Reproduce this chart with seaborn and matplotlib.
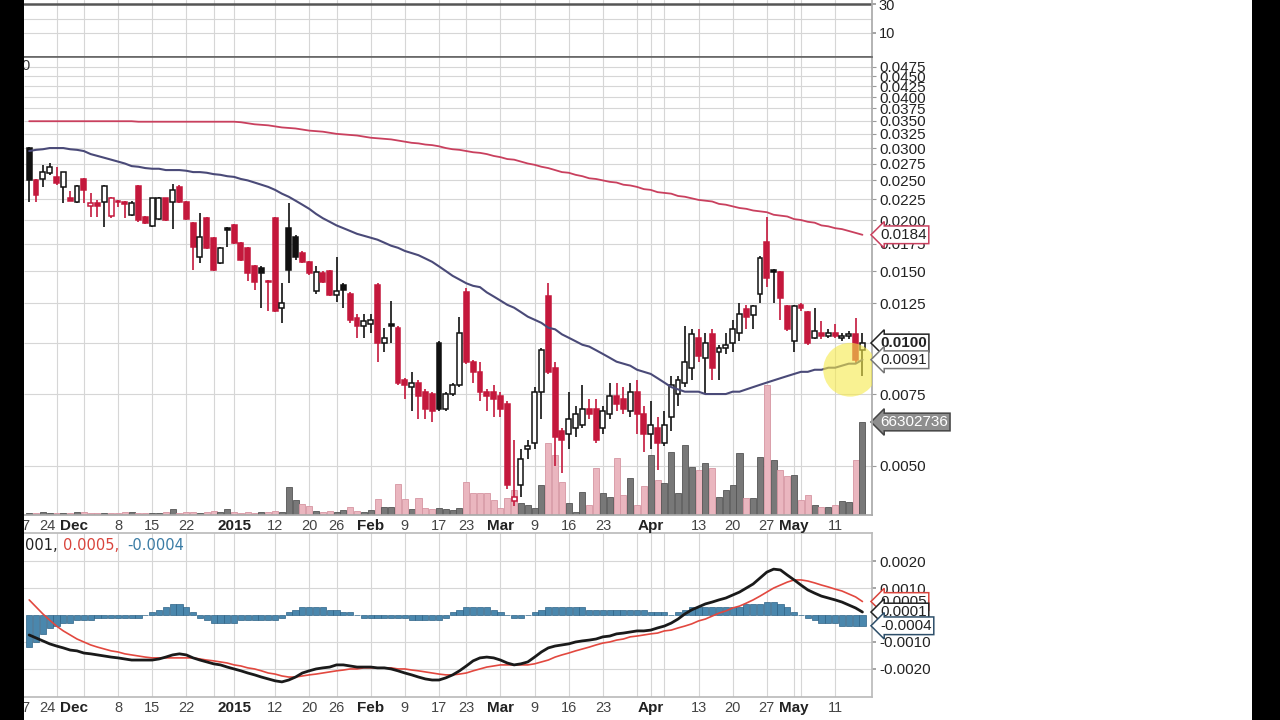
import numpy as np
import matplotlib
matplotlib.use('Agg')
import matplotlib.pyplot as plt
import matplotlib.transforms as mtransforms
from matplotlib.patches import Rectangle
from matplotlib.ticker import FixedLocator, FixedFormatter, NullLocator
import seaborn as sns

# --- daily data, oldest first (one entry per trading day, Nov 19 2014 - May 15 2015) ---
opens = [.0300, .0251, .0252, .0260, .0255, .0241, .0226, .0221, .0252, .0217,
         .0220, .0221, .0205, .0222, .0221, .0206, .0242, .0203, .0193, .0201,
         .0226, .0221, .0241, .0221, .0197, .0162, .0202, .0181, .0157, .0191,
         .0194, .0176, .0171, .0154, .0153, .0142, .0202, .0122, .0191, .0182,
         .0166, .0158, .0134, .0148, .0150, .0131, .0139, .0132, .0115, .0110,
         .0111, .0139, .0100, .0111, .0109, .0081, .0078, .0080, .0076, .0075,
         .0100, .0069, .0075, .0079, .0133, .0090, .0085, .0076, .0076, .0074,
         .0071, .0041, .0045, .0055, .0057, .0076, .0130, .0087, .0061, .0060,
         .0062, .0063, .0069, .0069, .0062, .0067, .0074, .0073, .0068, .0076,
         .0067, .0060, .0062, .0057, .0066, .0075, .0080, .0087, .0103, .0092,
         .0105, .0095, .0097, .0100, .0106, .0121, .0117, .0132, .0177, .0151,
         .0149, .0123, .0101, .0124, .0119, .0103, .0106, .0104, .0106, .0103,
         .0104, .0105, .0096]
highs = [.0302, .0252, .0273, .0276, .0270, .0262, .0235, .0244, .0253, .0233,
         .0224, .0244, .0228, .0224, .0222, .0222, .0243, .0204, .0227, .0228,
         .0227, .0245, .0243, .0222, .0198, .0208, .0203, .0182, .0172, .0192,
         .0195, .0177, .0172, .0155, .0154, .0143, .0203, .0140, .0220, .0184,
         .0168, .0159, .0154, .0150, .0151, .0162, .0140, .0133, .0118, .0118,
         .0118, .0140, .0109, .0127, .0110, .0082, .0085, .0081, .0077, .0076,
         .0101, .0076, .0080, .0116, .0136, .0091, .0090, .0077, .0079, .0076,
         .0072, .0058, .0055, .0058, .0078, .0097, .0140, .0090, .0062, .0076,
         .0070, .0079, .0073, .0073, .0070, .0080, .0080, .0078, .0080, .0081,
         .0070, .0072, .0066, .0068, .0083, .0083, .0110, .0108, .0108, .0106,
         .0108, .0099, .0106, .0114, .0125, .0124, .0124, .0163, .0203, .0152,
         .0150, .0124, .0124, .0125, .0120, .0122, .0113, .0108, .0111, .0106,
         .0107, .0115, .0106]
lows = [.0221, .0221, .0241, .0258, .0244, .0220, .0222, .0220, .0220, .0203,
        .0203, .0192, .0202, .0215, .0202, .0205, .0198, .0196, .0192, .0200,
        .0199, .0190, .0220, .0200, .0151, .0157, .0170, .0150, .0156, .0172,
        .0175, .0159, .0142, .0135, .0122, .0120, .0119, .0112, .0140, .0160,
        .0157, .0147, .0132, .0140, .0130, .0126, .0122, .0112, .0103, .0103,
        .0106, .0090, .0095, .0100, .0079, .0073, .0068, .0065, .0065, .0064,
        .0068, .0068, .0074, .0078, .0089, .0080, .0072, .0068, .0066, .0066,
        .0044, .0040, .0042, .0052, .0055, .0065, .0084, .0050, .0048, .0055,
        .0059, .0062, .0065, .0057, .0060, .0065, .0068, .0067, .0066, .0060,
        .0054, .0055, .0049, .0056, .0061, .0070, .0078, .0081, .0090, .0075,
        .0081, .0081, .0094, .0095, .0101, .0108, .0108, .0125, .0137, .0125,
        .0114, .0107, .0095, .0120, .0099, .0102, .0102, .0103, .0103, .0101,
        .0102, .0089, .0083]
closes = [.0251, .0230, .0262, .0270, .0247, .0262, .0223, .0242, .0237, .0220,
          .0216, .0242, .0227, .0221, .0219, .0220, .0200, .0197, .0226, .0227,
          .0200, .0237, .0221, .0201, .0172, .0182, .0171, .0151, .0171, .0189,
          .0176, .0160, .0148, .0141, .0148, .0141, .0120, .0125, .0151, .0162,
          .0158, .0148, .0149, .0141, .0131, .0134, .0135, .0114, .0110, .0113,
          .0114, .0100, .0103, .0110, .0080, .0079, .0080, .0074, .0069, .0068,
          .0069, .0075, .0079, .0106, .0090, .0085, .0076, .0074, .0073, .0069,
          .0045, .0042, .0052, .0056, .0076, .0096, .0085, .0059, .0058, .0065,
          .0067, .0069, .0067, .0058, .0068, .0074, .0071, .0069, .0076, .0067,
          .0060, .0063, .0057, .0063, .0079, .0081, .0090, .0105, .0093, .0100,
          .0087, .0097, .0099, .0108, .0118, .0116, .0123, .0161, .0144, .0149,
          .0129, .0108, .0123, .0122, .0100, .0107, .0104, .0106, .0104, .0104,
          .0105, .0091, .0100]
# volume in millions of shares
volume_m = [1.6, 1.2, 2.0, 1.4, 1.1, 1.5, 1.3, 1.8, 2.2, 1.4,
            1.2, 1.6, 1.3, 1.5, 1.9, 2.4, 1.6, 1.3, 1.7, 1.4,
            2.3, 4.3, 1.5, 1.8, 2.4, 1.6, 1.9, 2.6, 2.2, 4.5,
            2.0, 1.6, 2.3, 1.7, 2.4, 2.2, 3.0, 2.4, 20.0, 10.7,
            7.8, 6.4, 2.9, 2.1, 2.9, 2.1, 3.6, 5.7, 2.9, 2.1,
            3.6, 11.4, 5.7, 5.7, 22.1, 11.4, 4.3, 12.1, 5.0, 4.3,
            5.0, 4.3, 3.6, 5.0, 23.5, 15.7, 15.7, 15.7, 10.7, 5.0,
            12.1, 17.8, 8.6, 7.1, 5.0, 21.4, 51.3, 42.8, 23.5, 8.6,
            2.1, 16.4, 7.1, 33.5, 15.7, 12.8, 40.6, 14.3, 26.4, 7.1,
            20.7, 42.8, 25.0, 22.8, 44.9, 15.7, 49.9, 34.2, 32.1, 37.1,
            33.5, 12.8, 17.8, 21.4, 44.2, 12.1, 12.1, 41.4, 92.7, 39.2,
            32.1, 27.8, 28.5, 10.7, 14.3, 7.1, 5.7, 5.7, 7.1, 10.0,
            9.3, 39.2, 66.302736]
ma50 = [.0295, .0297, .0298, .0300, .0300, .0300, .0298, .0297, .0295, .0290,
        .0287, .0284, .0281, .0278, .0275, .0271, .0270, .0268, .0267, .0267,
        .0265, .0265, .0265, .0264, .0262, .0262, .0261, .0259, .0258, .0256,
        .0255, .0252, .0250, .0247, .0244, .0241, .0237, .0232, .0228, .0223,
        .0218, .0213, .0207, .0202, .0198, .0194, .0191, .0188, .0185, .0183,
        .0181, .0179, .0176, .0173, .0171, .0168, .0166, .0164, .0161, .0158,
        .0154, .0150, .0146, .0143, .0140, .0138, .0137, .0133, .0130, .0127,
        .0124, .0122, .0119, .0116, .0114, .0112, .0109, .0108, .0105, .0103,
        .0101, .0099, .0098, .0096, .0094, .0092, .0090, .0089, .0088, .0086,
        .0085, .0084, .0082, .0080, .0078, .0077, .0076, .0076, .0076, .0075,
        .0075, .0075, .0075, .0076, .0076, .0077, .0078, .0079, .0080, .0081,
        .0082, .0083, .0084, .0085, .0085, .0086, .0086, .0087, .0087, .0088,
        .0089, .0089, .0091]
ma200 = [.0349, .0349, .0349, .0349, .0349, .0349, .0349, .0349, .0349, .0349,
         .0349, .0349, .0349, .0349, .0349, .0349, .0348, .0348, .0348, .0348,
         .0348, .0348, .0348, .0348, .0348, .0348, .0348, .0348, .0348, .0348,
         .0348, .0347, .0345, .0343, .0342, .0341, .0339, .0337, .0336, .0335,
         .0333, .0331, .0330, .0329, .0327, .0325, .0324, .0323, .0322, .0320,
         .0318, .0317, .0316, .0315, .0313, .0311, .0309, .0308, .0306, .0305,
         .0303, .0300, .0298, .0297, .0295, .0293, .0292, .0290, .0287, .0285,
         .0282, .0281, .0278, .0275, .0273, .0270, .0268, .0265, .0262, .0261,
         .0258, .0256, .0253, .0252, .0250, .0248, .0247, .0244, .0243, .0241,
         .0238, .0237, .0234, .0233, .0232, .0229, .0228, .0226, .0224, .0223,
         .0222, .0219, .0218, .0216, .0214, .0213, .0211, .0210, .0209, .0206,
         .0205, .0204, .0201, .0200, .0198, .0197, .0194, .0193, .0191, .0190,
         .0188, .0186, .0184]
# MACD(12,26,9) values, in units of 0.0001
macd_e4 = [-7.4, -8.5, -9.6, -10.7, -11.5, -12.2, -13.0, -13.3, -14.1, -14.4,
           -14.8, -15.2, -15.6, -15.9, -16.3, -16.7, -16.7, -16.7, -16.7, -16.3,
           -15.6, -14.8, -14.4, -14.8, -15.9, -16.7, -17.4, -18.1, -18.5, -19.3,
           -20.0, -20.7, -21.5, -22.2, -23.0, -23.7, -24.4, -24.8, -24.1, -23.0,
           -21.5, -20.7, -20.0, -19.6, -19.3, -18.5, -18.5, -18.9, -19.3, -19.3,
           -19.3, -19.6, -19.6, -20.0, -20.7, -21.5, -22.2, -23.0, -23.7, -24.1,
           -24.1, -23.3, -22.2, -20.7, -18.9, -17.0, -15.9, -15.6, -15.9, -16.7,
           -17.8, -18.5, -18.1, -17.4, -15.6, -13.7, -12.2, -11.5, -11.1, -10.7,
           -10.0, -9.6, -9.3, -8.9, -8.1, -7.8, -7.0, -6.7, -6.3, -5.9,
           -5.9, -5.6, -4.8, -4.1, -3.0, -1.5, 0.4, 1.9, 3.0, 4.1,
           4.8, 5.6, 6.3, 7.4, 8.5, 10.0, 11.5, 13.7, 15.9, 17.0,
           16.7, 14.8, 13.0, 11.1, 9.3, 8.1, 7.0, 6.3, 5.6, 4.8,
           3.7, 2.6, 1.1]
signal_e4 = [5.6, 3.0, 0.4, -1.9, -4.1, -5.9, -7.4, -8.9, -10.0, -11.1,
             -11.9, -12.6, -13.3, -13.7, -14.4, -14.8, -15.2, -15.6, -15.9, -15.9,
             -15.9, -15.9, -15.9, -15.9, -15.9, -16.3, -16.7, -17.0, -17.4, -17.8,
             -18.5, -18.9, -19.6, -20.0, -20.7, -21.5, -21.9, -22.6, -23.0, -23.0,
             -22.6, -22.2, -21.9, -21.5, -21.1, -20.7, -20.4, -20.0, -20.0, -19.6,
             -19.6, -19.6, -19.6, -19.6, -20.0, -20.0, -20.4, -20.7, -21.1, -21.5,
             -21.9, -22.2, -22.2, -21.9, -21.5, -20.7, -20.0, -19.3, -18.9, -18.5,
             -18.5, -18.5, -18.5, -18.5, -18.1, -17.4, -16.7, -15.6, -14.8, -14.1,
             -13.3, -12.6, -11.9, -11.1, -10.4, -10.0, -9.3, -8.9, -8.1, -7.8,
             -7.4, -7.0, -6.7, -5.9, -5.6, -4.8, -4.1, -3.3, -2.2, -1.5,
             -0.4, 0.7, 1.5, 2.6, 3.3, 4.4, 5.6, 7.0, 8.5, 10.0,
             11.1, 12.2, 13.0, 13.0, 12.6, 11.9, 11.1, 10.4, 9.6, 8.9,
             7.8, 6.7, 5.0]
hist_e4 = [-12, -10, -7, -5, -4, -3, -3, -2, -2, -2,
           -1, -1, -1, -1, -1, -1, -1, 0, 1, 2,
           3, 4, 4, 3, 1, -1, -2, -3, -3, -3,
           -3, -2, -2, -2, -2, -2, -2, -1, 1, 2,
           3, 3, 3, 3, 2, 2, 1, 1, 0, -1,
           -1, -1, -1, -1, -1, -1, -2, -2, -2, -2,
           -2, -1, 1, 2, 3, 3, 3, 3, 2, 1,
           0, -1, -1, 0, 1, 2, 3, 3, 3, 3,
           3, 3, 2, 2, 2, 2, 2, 2, 2, 2,
           2, 1, 1, 1, 0, 1, 2, 3, 3, 3,
           3, 3, 3, 3, 3, 4, 4, 4, 5, 5,
           4, 3, 1, 0, -1, -2, -3, -3, -3, -4,
           -4, -4, -4]

# x axis: label positions (trading-day index) and weekly grid lines
tick_pos = [-0.5, 2.6, 6.5, 13, 18, 23, 30, 36, 41, 45, 50, 55, 60, 64,
            69, 74, 79, 84, 91, 98, 103, 108, 112, 118]
tick_labels = ['7', '24', 'Dec', '8', '15', '22', '2015', '12', '20', '26', 'Feb', '9', '17', '23',
               'Mar', '9', '16', '23', 'Apr', '13', '20', '27', 'May', '11']
month_labels = {'Dec', '2015', 'Feb', 'Mar', 'Apr', 'May'}
grid_days = [4, 8, 13, 18, 23, 27, 30, 36, 41, 45, 50, 55, 60, 64, 69, 74,
             79, 84, 89, 91, 93, 98, 103, 108, 112, 113, 118]
price_ticks = [0.0050, 0.0075, 0.0100, 0.0125, 0.0150, 0.0175, 0.0200, 0.0225,
               0.0250, 0.0275, 0.0300, 0.0325, 0.0350, 0.0375, 0.0400, 0.0425,
               0.0450, 0.0475]
macd_ticks = [0.0020, 0.0010, -0.0010, -0.0020]

RED = '#c4183c'
BLACK = '#111111'
GRID = '#d6d6d6'

sns.set_theme(style='white')
plt.rcParams['font.family'] = ['Liberation Sans', 'DejaVu Sans']

o = np.array(opens); h = np.array(highs); l = np.array(lows); c = np.array(closes)
idx = np.arange(len(c))
prev = np.r_[c[0], c[:-1]]
up_day = c >= prev
edge = np.where(up_day, BLACK, RED)
face = np.where(c >= o, 'white', edge)
macd = np.array(macd_e4) * 1e-4
signal = np.array(signal_e4) * 1e-4
hist = np.array(hist_e4) * 1e-4
vol = np.array(volume_m)

fig = plt.figure(figsize=(12.8, 7.2), dpi=100)
fig.patch.set_facecolor('white')
L, W = 24 / 1280, 848 / 1280
ax_top = fig.add_axes([L, 1 - 57 / 720, W, 57 / 720])
ax = fig.add_axes([L, 1 - 515 / 720, W, 458 / 720])
ax_m = fig.add_axes([L, 1 - 697 / 720, W, 164 / 720])

# volume sits on its own axis underneath the price axis
ax_vol = ax.twinx()
ax.set_zorder(ax_vol.get_zorder() + 1)
ax.patch.set_visible(False)
ax_vol.patch.set_visible(True)
ax_vol.patch.set_facecolor('white')

xlim = (-0.76, 123.4)
for a in (ax_top, ax, ax_m):
    a.set_xlim(*xlim)

# --- price panel ---
ax.set_yscale('log')
ax.set_ylim(0.003793, 0.05012)
blend = mtransforms.blended_transform_factory(ax_vol.transAxes, ax.transData)
ax_vol.hlines(price_ticks, 0, 1, transform=blend, colors=GRID, lw=0.8, zorder=0)
for d in grid_days:
    ax_vol.axvline(d, color=GRID, lw=0.8, zorder=0)
ax_vol.bar(idx, vol, width=0.88, color=np.where(up_day, '#787878', '#eab6bf'),
           edgecolor=np.where(up_day, '#555555', '#d695a2'), linewidth=0.6, zorder=1)
ax_vol.set_ylim(0, vol[-1] * 458 / 93)
ax_vol.set_yticks([])
ax_vol.tick_params(right=False, labelright=False)
for s in ax_vol.spines.values():
    s.set_visible(False)

ax.vlines(idx, l, h, colors=edge, lw=1.2, zorder=2)
body = np.maximum(np.abs(c - o), 0.00002)
ax.bar(idx, body, bottom=np.minimum(o, c), width=0.72, color=face, edgecolor=edge,
       linewidth=1.1, zorder=3)
sns.lineplot(x=idx, y=ma200, ax=ax, color='#c9405e', linewidth=1.3, zorder=4)
sns.lineplot(x=idx, y=ma50, ax=ax, color='#4a4a78', linewidth=1.5, zorder=4)
ax.set_xlabel(''); ax.set_ylabel('')

# mouse highlight from the screen recording
ax.scatter([120.2], [0.0086], s=1500, color='#f6ea4a', alpha=0.6, edgecolors='none',
           zorder=8)

ax.yaxis.tick_right()
ax.yaxis.set_major_locator(FixedLocator(price_ticks))
ax.yaxis.set_major_formatter(FixedFormatter([f'{v:.4f}' for v in price_ticks]))
ax.yaxis.set_minor_locator(NullLocator())
ax.tick_params(axis='y', which='major', length=3, width=0.8, color='#999999', pad=2,
               labelsize=11, labelcolor='#222222', right=True, left=False,
               labelright=True, labelleft=False)
ax.spines['left'].set_visible(False)
ax.spines['top'].set_color('#666666'); ax.spines['top'].set_linewidth(1.2)
ax.spines['right'].set_color('#aaaaaa')
ax.spines['bottom'].set_color('#aaaaaa')


def tag(axis, val, text, ec, fc='white', tc='#222222', bold=False):
    axis.annotate(text, xy=(1.0, val), xycoords=axis.get_yaxis_transform(),
                  xytext=(6, 0), textcoords='offset points', ha='left', va='center',
                  fontsize=11, fontweight='bold' if bold else 'normal', color=tc,
                  bbox=dict(boxstyle='larrow,pad=0.12', fc=fc, ec=ec, lw=1.1),
                  annotation_clip=False, zorder=10)


tag(ax, ma200[-1], f'{ma200[-1]:.4f}', '#c9405e')
tag(ax, closes[-1], f'{closes[-1]:.4f}', '#222222', bold=True)
tag(ax, ma50[-1], f'{ma50[-1]:.4f}', '#777777')
tag(ax_vol, vol[-1], f'{int(round(vol[-1] * 1e6))}', '#444444', fc='#8e8e8e', tc='white')

# --- top indicator strip (cut off by the screen edge) ---
ax_top.set_ylim(-6.6, 32.8)
for d in grid_days:
    ax_top.axvline(d, color=GRID, lw=0.8, zorder=0)
ax_top.axhline(20, color=GRID, lw=0.8)
ax_top.axhline(10, color=GRID, lw=0.8)
ax_top.axhline(30, color='#555555', lw=1.8)
ax_top.set_xticks([])
ax_top.yaxis.tick_right()
ax_top.set_yticks([10, 30])
ax_top.set_yticklabels(['10', '30'])
ax_top.tick_params(axis='y', length=3, color='#999999', pad=2, labelsize=10.5,
                   labelcolor='#222222')
for k in ('left', 'top'):
    ax_top.spines[k].set_visible(False)
ax_top.spines['bottom'].set_color('#666666'); ax_top.spines['bottom'].set_linewidth(1.2)
ax_top.spines['right'].set_color('#aaaaaa')

# --- MACD panel ---
ax_m.set_ylim(-0.00304, 0.00304)
for d in grid_days:
    ax_m.axvline(d, color=GRID, lw=0.8, zorder=0)
for v in macd_ticks:
    ax_m.axhline(v, color=GRID, lw=0.8, zorder=0)
ax_m.bar(idx, hist, width=0.9, color='#4a87ad', edgecolor='#2e6386', linewidth=0.5, zorder=2)
sns.lineplot(x=idx, y=signal, ax=ax_m, color='#e2483f', linewidth=1.2, zorder=3)
sns.lineplot(x=idx, y=macd, ax=ax_m, color='#1a1a1a', linewidth=2.0, zorder=4)
ax_m.set_xlabel(''); ax_m.set_ylabel('')
ax_m.yaxis.tick_right()
ax_m.set_yticks(macd_ticks)
ax_m.set_yticklabels([f'{v:.4f}' for v in macd_ticks])
ax_m.tick_params(axis='y', length=3, color='#999999', pad=2, labelsize=11,
                 labelcolor='#222222')
ax_m.spines['left'].set_visible(False)
for k in ('top', 'right', 'bottom'):
    ax_m.spines[k].set_color('#bbbbbb')
tag(ax_m, signal[-1], f'{signal[-1]:.4f}', '#d9443c')
tag(ax_m, macd[-1], f'{macd[-1]:.4f}', '#222222')
tag(ax_m, hist[-1], f'{hist[-1]:.4f}', '#2e4f6a')

# date labels under both panels
for a in (ax, ax_m):
    a.set_xticks(tick_pos)
    a.set_xticklabels(tick_labels)
    for lab in a.get_xticklabels():
        if lab.get_text() in month_labels:
            lab.set_fontweight('bold'); lab.set_fontsize(11); lab.set_color('#222222')
        else:
            lab.set_fontsize(10.5); lab.set_color('#444444')
    a.tick_params(axis='x', length=0, pad=3)

# MACD legend line (left part is cut off by the screen edge)
ly = 1 - 545 / 720
fig.text(25 / 1280, ly, '001,', fontsize=10.5, color='#222222', va='center',
         family=['DejaVu Sans'])
fig.text(63 / 1280, ly, f'{signal[-1]:.4f},', fontsize=10.5, color='#d9443c', va='center',
         family=['DejaVu Sans'])
fig.text(127 / 1280, ly, f'{hist[-1]:.4f}', fontsize=10.5, color='#3a7ca5', va='center',
         family=['DejaVu Sans'])
fig.text(21 / 1280, 1 - 66 / 720, '0', fontsize=10.5, color='#333333', va='center')

# black bars at the screen edges
fig.add_artist(Rectangle((0, 0), 24 / 1280, 1, transform=fig.transFigure,
                         facecolor='black', edgecolor='none', zorder=20))
fig.add_artist(Rectangle((1252 / 1280, 0), 28 / 1280, 1, transform=fig.transFigure,
                         facecolor='black', edgecolor='none', zorder=20))

fig.savefig('out.png', dpi=100, facecolor='white')
